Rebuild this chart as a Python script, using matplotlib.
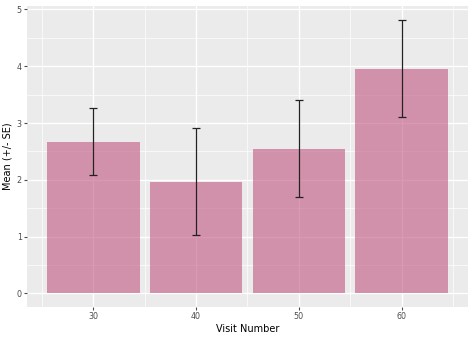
import numpy as np
import matplotlib.pyplot as plt

# Data
visits = [30, 40, 50, 60]
means = [2.67, 1.96, 2.54, 3.96]
upper = [3.26, 2.91, 3.40, 4.82]
lower = [2.08, 1.02, 1.70, 3.10]

fig = plt.figure(figsize=(4.74, 3.38), dpi=100)
ax = fig.add_axes([27 / 474, 31 / 338, 441 / 474, 301 / 338])

ax.set_facecolor('#EBEBEB')
for s in ax.spines.values():
    s.set_visible(False)

ax.set_xlim(23.55, 66.45)
ax.set_ylim(-0.241, 5.061)
ax.set_xticks(visits)
ax.set_yticks([0, 1, 2, 3, 4, 5])
ax.set_xticks([25, 35, 45, 55, 65], minor=True)
ax.set_yticks(np.arange(0.5, 5.0, 1.0), minor=True)
ax.grid(True, which='major', color='white', linewidth=1.0)
ax.grid(True, which='minor', color='white', linewidth=0.5)
ax.set_axisbelow(True)

ax.bar(visits, means, width=9, color='#C2557F', alpha=0.6, zorder=2)

err = [np.array(means) - np.array(lower), np.array(upper) - np.array(means)]
ax.errorbar(visits, means, yerr=err, fmt='none', ecolor='#222222',
            elinewidth=0.9, capsize=3, capthick=0.9, zorder=3)

ax.tick_params(axis='both', which='major', colors='#4D4D4D', labelsize=5.8,
               length=2.2, width=0.8, pad=1.5)
ax.tick_params(axis='both', which='minor', length=0)
for lab in ax.get_xticklabels() + ax.get_yticklabels():
    lab.set_color('#4D4D4D')

ax.set_xlabel('Visit Number', fontsize=7, labelpad=2)
ax.set_ylabel('Mean (+/- SE)', fontsize=7, labelpad=3)

fig.savefig('out.png', dpi=100)
